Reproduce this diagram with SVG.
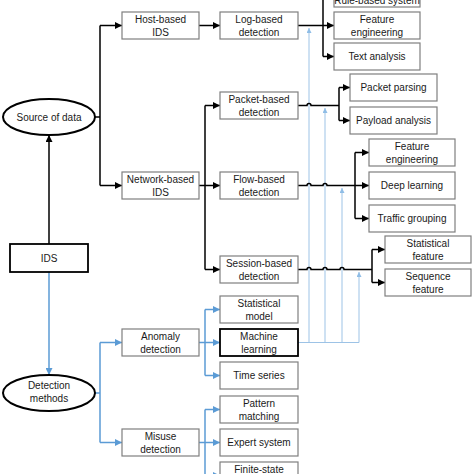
<svg xmlns="http://www.w3.org/2000/svg" width="474" height="474" viewBox="0 0 474 474">
<defs>
<marker id="ab" viewBox="0 0 10 10" refX="10" refY="5" markerWidth="7" markerHeight="7" markerUnits="userSpaceOnUse" orient="auto"><path d="M0,0 L10,5 L0,10 z" fill="#000"/></marker>
<marker id="abl" viewBox="0 0 10 10" refX="10" refY="5" markerWidth="7" markerHeight="7" markerUnits="userSpaceOnUse" orient="auto"><path d="M0,0 L10,5 L0,10 z" fill="#5b9bd5"/></marker>
<marker id="abt" viewBox="0 0 10 10" refX="10" refY="5" markerWidth="5" markerHeight="5" markerUnits="userSpaceOnUse" orient="auto"><path d="M0,0 L10,5 L0,10 z" fill="#8fbde6"/></marker>
<style>
.box{fill:#fff;stroke:#7f7f7f;stroke-width:1.2}
.thick{fill:#fff;stroke:#000;stroke-width:1.8}
.ell{fill:#fff;stroke:#000;stroke-width:2}
text{font-family:"Liberation Sans",Arial,sans-serif;font-size:10px;fill:#1a1a1a;text-anchor:middle}
.k{fill:none;stroke:#000;stroke-width:1.5}
.ka{fill:none;stroke:#000;stroke-width:1.5;marker-end:url(#ab)}
.b{fill:none;stroke:#5b9bd5;stroke-width:1.5}
.ba{fill:none;stroke:#5b9bd5;stroke-width:1.5;marker-end:url(#abl)}
.t{fill:none;stroke:#9dc3e6;stroke-width:1}
.ta{fill:none;stroke:#9dc3e6;stroke-width:1;marker-end:url(#abt)}
</style>
</defs>
<rect width="474" height="474" fill="#fff"/>

<g id="connectors">
<!-- thin blue verticals from Machine learning -->
<path class="t" d="M298,342.5 H359"/>
<path class="ta" d="M309,342.5 V28"/>
<path class="ta" d="M325,342.5 V108"/>
<path class="ta" d="M342,342.5 V188"/>
<path class="ta" d="M359,342.5 V272"/>

<!-- source of data -->
<path class="ka" d="M49,244 V135"/>
<path class="k" d="M95,117 H100 M100,25.5 V185.5"/>
<path class="ka" d="M100,25.5 H122"/>
<path class="ka" d="M100,185.5 H122"/>
<path class="ka" d="M199,25.5 H220"/>
<path class="ka" d="M298,25.5 H334"/>
<path class="k" d="M323,-5 V56.5"/>
<path class="ka" d="M323,56.5 H334"/>
<!-- network-based -->
<path class="ka" d="M199,185.5 H220"/>
<path class="k" d="M205,105.5 V269.5"/>
<path class="ka" d="M205,105.5 H220"/>
<path class="ka" d="M205,269.5 H220"/>
<!-- packet -->
<path class="k" d="M298,105.5 H307 a2,2 0 0 1 4,0 H339 M339,87.5 V120.5"/>
<path class="ka" d="M339,87.5 H350"/>
<path class="ka" d="M339,120.5 H350"/>
<!-- flow -->
<path class="ka" d="M298,185.5 H307 a2,2 0 0 1 4,0 H323 a2,2 0 0 1 4,0 H369"/>
<path class="k" d="M355,152.5 V218.5"/>
<path class="ka" d="M355,152.5 H369"/>
<path class="ka" d="M355,218.5 H369"/>
<!-- session -->
<path class="k" d="M298,269.5 H307 a2,2 0 0 1 4,0 H323 a2,2 0 0 1 4,0 H340 a2,2 0 0 1 4,0 H372 M372,249.5 V282.5"/>
<path class="ka" d="M372,249.5 H385"/>
<path class="ka" d="M372,282.5 H385"/>

<!-- detection methods -->
<path class="ba" d="M49,272 V375"/>
<path class="b" d="M95,393 H100 M100,342.5 V442.5"/>
<path class="ba" d="M100,342.5 H122"/>
<path class="ba" d="M100,442.5 H122"/>
<path class="ba" d="M199,342.5 H220"/>
<path class="b" d="M205,309.5 V375.5"/>
<path class="ba" d="M205,309.5 H220"/>
<path class="ba" d="M205,375.5 H220"/>
<path class="ba" d="M199,442.5 H220"/>
<path class="b" d="M205,409.5 V480"/>
<path class="ba" d="M205,409.5 H220"/>
<path class="ba" d="M205,475.5 H220"/>
</g>

<g id="source-of-data"><ellipse class="ell" cx="49" cy="117" rx="46" ry="18"/><text x="49" y="120.5">Source of data</text></g>
<g id="ids"><rect class="thick" x="10" y="244" width="78" height="28"/><text x="49" y="261.5">IDS</text></g>
<g id="detection-methods"><ellipse class="ell" cx="49" cy="393" rx="46" ry="18"/><text x="49" y="389">Detection</text><text x="49" y="401.5">methods</text></g>

<g id="host-based-ids"><rect class="box" x="122" y="12" width="77" height="27"/><text x="160.5" y="23">Host-based</text><text x="160.5" y="35.5">IDS</text></g>
<g id="network-based-ids"><rect class="box" x="122" y="172" width="77" height="27"/><text x="160.5" y="183">Network-based</text><text x="160.5" y="195.5">IDS</text></g>
<g id="anomaly-detection"><rect class="box" x="122" y="329" width="77" height="27"/><text x="160.5" y="340">Anomaly</text><text x="160.5" y="352.5">detection</text></g>
<g id="misuse-detection"><rect class="box" x="122" y="429" width="77" height="27"/><text x="160.5" y="440">Misuse</text><text x="160.5" y="452.5">detection</text></g>

<g id="log-based"><rect class="box" x="220" y="12" width="78" height="27"/><text x="259" y="23">Log-based</text><text x="259" y="35.5">detection</text></g>
<g id="packet-based"><rect class="box" x="220" y="92" width="78" height="27"/><text x="259" y="103">Packet-based</text><text x="259" y="115.5">detection</text></g>
<g id="flow-based"><rect class="box" x="220" y="172" width="78" height="27"/><text x="259" y="183">Flow-based</text><text x="259" y="195.5">detection</text></g>
<g id="session-based"><rect class="box" x="220" y="256" width="78" height="27"/><text x="259" y="267">Session-based</text><text x="259" y="279.5">detection</text></g>

<g id="statistical-model"><rect class="box" x="220" y="296" width="78" height="27"/><text x="259" y="307">Statistical</text><text x="259" y="319.5">model</text></g>
<g id="machine-learning"><rect class="thick" x="220" y="329" width="78" height="27"/><text x="259" y="340">Machine</text><text x="259" y="352.5">learning</text></g>
<g id="time-series"><rect class="box" x="220" y="362" width="78" height="27"/><text x="259" y="379">Time series</text></g>
<g id="pattern-matching"><rect class="box" x="220" y="396" width="78" height="27"/><text x="259" y="407">Pattern</text><text x="259" y="419.5">matching</text></g>
<g id="expert-system"><rect class="box" x="220" y="429" width="78" height="27"/><text x="259" y="446">Expert system</text></g>
<g id="finite-state"><rect class="box" x="220" y="462" width="78" height="27"/><text x="259" y="473">Finite-state</text></g>

<g id="rule-based-system"><rect class="box" x="334" y="-20" width="86" height="27"/><text x="377" y="4">Rule-based system</text></g>
<g id="feature-engineering-1"><rect class="box" x="334" y="12" width="86" height="27"/><text x="377" y="23">Feature</text><text x="377" y="35.5">engineering</text></g>
<g id="text-analysis"><rect class="box" x="334" y="43" width="86" height="27"/><text x="377" y="60">Text analysis</text></g>
<g id="packet-parsing"><rect class="box" x="350" y="74" width="87" height="27"/><text x="393.5" y="91">Packet parsing</text></g>
<g id="payload-analysis"><rect class="box" x="350" y="107" width="87" height="27"/><text x="393.5" y="124">Payload analysis</text></g>
<g id="feature-engineering-2"><rect class="box" x="369" y="139" width="86" height="27"/><text x="412" y="150">Feature</text><text x="412" y="162.5">engineering</text></g>
<g id="deep-learning"><rect class="box" x="369" y="172" width="86" height="27"/><text x="412" y="189">Deep learning</text></g>
<g id="traffic-grouping"><rect class="box" x="369" y="205" width="86" height="27"/><text x="412" y="222">Traffic grouping</text></g>
<g id="statistical-feature"><rect class="box" x="385" y="236" width="86" height="27"/><text x="428" y="247">Statistical</text><text x="428" y="259.5">feature</text></g>
<g id="sequence-feature"><rect class="box" x="385" y="269" width="86" height="27"/><text x="428" y="280">Sequence</text><text x="428" y="292.5">feature</text></g>
</svg>
